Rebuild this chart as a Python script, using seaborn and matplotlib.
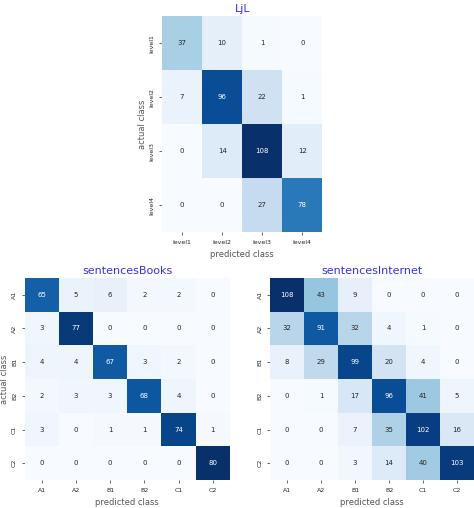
import numpy as np
import matplotlib
matplotlib.use('Agg')
import matplotlib.pyplot as plt
import seaborn as sns

# Data
ljl_labels = ['level1', 'level2', 'level3', 'level4']
ljl_cm = [[37, 10, 1, 0],
          [7, 96, 22, 1],
          [0, 14, 108, 12],
          [0, 0, 27, 78]]

cefr_labels = ['A1', 'A2', 'B1', 'B2', 'C1', 'C2']
books_cm = [[65, 5, 6, 2, 2, 0],
            [3, 77, 0, 0, 0, 0],
            [4, 4, 67, 3, 2, 0],
            [2, 3, 3, 68, 4, 0],
            [3, 0, 1, 1, 74, 1],
            [0, 0, 0, 0, 0, 80]]
internet_cm = [[108, 43, 9, 0, 0, 0],
               [32, 91, 32, 4, 1, 0],
               [8, 29, 99, 20, 4, 0],
               [0, 1, 17, 96, 41, 5],
               [0, 0, 7, 35, 102, 16],
               [0, 0, 3, 14, 40, 103]]

sns.set_style('ticks')
plt.rcParams['font.family'] = ['DejaVu Sans']

fig = plt.figure(figsize=(4.74, 5.08), dpi=100)


def draw(ax, cm, labels, title, ylabel=True):
    sns.heatmap(np.array(cm), annot=True, fmt='d', cmap='Blues', cbar=False,
                xticklabels=labels, yticklabels=labels, ax=ax,
                annot_kws={'fontsize': 5})
    ax.set_title(title, color='#3333dd', fontsize=8, pad=3)
    ax.set_xlabel('predicted class', fontsize=6, color='#555555')
    if ylabel:
        ax.set_ylabel('actual class', fontsize=6, color='#555555', labelpad=2)
    ax.tick_params(labelsize=4.5, length=2, width=0.5)
    plt.setp(ax.get_xticklabels(), rotation=0)
    plt.setp(ax.get_yticklabels(), rotation=90, va='center')
    ax.set_aspect('auto')


ax1 = fig.add_axes([0.342, 0.543, 0.338, 0.425])
draw(ax1, ljl_cm, ljl_labels, 'LjL')

ax2 = fig.add_axes([0.052, 0.055, 0.433, 0.398])
draw(ax2, books_cm, cefr_labels, 'sentencesBooks')

ax3 = fig.add_axes([0.57, 0.055, 0.43, 0.398])
draw(ax3, internet_cm, cefr_labels, 'sentencesInternet', ylabel=False)

fig.savefig('out.png', dpi=100)
